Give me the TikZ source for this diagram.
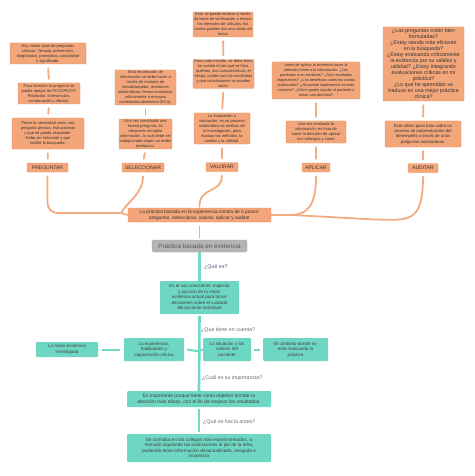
\documentclass[tikz,border=0pt]{standalone}
\usepackage{fontspec}
\setmainfont{Liberation Sans}
\definecolor{stepfill}{HTML}{F3A67A}
\definecolor{stepdraw}{HTML}{E8925E}
\definecolor{steporange}{HTML}{F2AC80}
\definecolor{ideafill}{HTML}{6ED7C3}
\definecolor{ideateal}{HTML}{6FD8C6}
\definecolor{rootfill}{HTML}{B4B4B4}
\definecolor{rootdraw}{HTML}{A6A6A6}
\definecolor{asktext}{HTML}{5B4E8C}
\definecolor{cuetext}{HTML}{6E6E6E}

\begin{document}
\begin{tikzpicture}[
  x=1pt,y=-1pt,
  stepbox/.style 2 args={draw=stepdraw,fill=stepfill,rounded corners=1pt,align=center,inner sep=0.5pt,
    text=black!80,minimum width=#1,minimum height=#2,font=\fontsize{4}{5}\selectfont},
  stagebox/.style={stepbox={#1}{9pt},font=\fontsize{5}{6}\selectfont},
  ideabox/.style 2 args={fill=ideafill,rounded corners=1pt,align=center,inner sep=0.5pt,
    text=black!75,minimum width=#1,minimum height=#2,font=\fontsize{4.5}{5.5}\selectfont},
  steplink/.style={draw=steporange,line width=1.8pt,line cap=round},
  idealink/.style={draw=ideateal,line width=2.6pt},
  cue/.style={anchor=west,text=cuetext,inner sep=0pt,font=\fontsize{5.3}{6}\selectfont}
]
  \useasboundingbox[fill=white] (0,0) rectangle (474,476);

  % preguntar
  \node[stepbox={76pt}{21pt}] (ask1) at (48,53.5) {Hay varios tipos de preguntas\\clínicas: Terapia, prevención,\\diagnóstico, pronóstico, causalidad\\y significado.};
  \node[stepbox={62pt}{21pt}] (ask2) at (49,93.5) {Para formular la pregunta se\\puede apoyar de PICO/PICOT:\\Población, intervención,\\comparación y efectos.};
  \node[stepbox={72pt}{31pt}] (ask3) at (48,133.5) {Poner la necesidad como una\\pregunta precisa, estructurada\\y que se pueda responder.\\Debe ser relevante y que\\facilite la búsqueda.};
  \node[stagebox={41pt}] (preguntar) at (47.5,167.5) {PREGUNTAR};

  % seleccionar
  \node[stepbox={61pt}{35pt}] (sel1) at (145.5,87.5) {Esta recolección de\\información se debe hacer a\\través de motores de\\metabúsqueda, revisiones\\sistemáticas, temas evaluados\\críticamente o ensayos\\controlados aleatorios (ECA).};
  \node[stepbox={53pt}{28pt}] (sel2) at (145.5,134) {Una vez construida una\\buena pregunta, es\\necesario recopilar\\información, la cual debe ser\\categorizada según un orden\\jerárquico.};
  \node[stagebox={42pt}] (seleccionar) at (143,167.5) {SELECCIONAR};

  % valorar
  \node[stepbox={60pt}{25pt}] (val1) at (223,24.5) {Esto se puede realizar a través\\de listas de verificación o revisar\\los ejemplos de cálculos, los\\cuales pueden dar una visión de\\estos};
  \node[stepbox={61pt}{28pt}] (val2) at (223.5,74) {Para cada estudio, se debe tener\\en cuenta el por qué se hizo,\\quiénes, sus características, el\\sesgo, cuáles son los resultados\\y qué conclusiones se pueden\\sacar.};
  \node[stepbox={56pt}{31pt}] (val3) at (222,128.5) {La evaluación o\\valoración, es un proceso\\sistemático de análisis de\\la investigación, para\\evaluar los métodos, la\\validez y la utilidad.};
  \node[stagebox={32pt}] (valorar) at (222,167) {VALORAR};

  % aplicar
  \node[stepbox={88pt}{37pt},font=\fontsize{3.8}{5}\selectfont] (app1) at (316,80.5) {Antes de aplicar la evidencia hacer la\\reflexión frente a la información: ¿Los\\pacientes eran similares? ¿Son resultados\\importantes? ¿Los beneficios valen los costos\\potenciales? ¿Se puede implementar en este\\contexto? ¿Cómo puedo ayudar al paciente a\\tomar una decisión?};
  \node[stepbox={60pt}{22pt}] (app2) at (316,132) {Una vez evaluada la\\información, es hora de\\tomar la decisión de aplicar\\los hallazgos y como};
  \node[stagebox={28pt}] (aplicar) at (316,167.5) {APLICAR};

  % auditar
  \node[stepbox={81pt}{74pt},font=\fontsize{5.3}{6}\selectfont] (aud1) at (423.5,64) {¿Las preguntas están bien\\formuladas?\\¿Estoy siendo más eficiente\\en la búsqueda?\\¿Estoy evaluando críticamente\\la evidencia por su validez y\\utilidad? ¿Estoy integrando\\evaluaciones críticas en mi\\práctica?\\¿Lo que he aprendido se\\traduce en una mejor práctica\\clínica?};
  \node[stepbox={76pt}{26pt},font=\fontsize{4.2}{5.3}\selectfont] (aud2) at (423,134) {Este último paso trata sobre un\\proceso de autoevaluación del\\desempeño a través de unas\\preguntas orientadoras.};
  \node[stagebox={30pt}] (auditar) at (423,168) {AUDITAR};

  \foreach \a/\b in {ask1/ask2,ask2/ask3,ask3/preguntar,sel1/sel2,sel2/seleccionar,
    val1/val2,val2/val3,val3/valorar,app1/app2,app2/aplicar,aud1/aud2,aud2/auditar}
    \draw[steplink,shorten <=4pt,shorten >=4pt] (\a.south) -- (\b.north);

  % pasos
  \node[stepbox={143pt}{14pt},font=\fontsize{4.8}{5.6}\selectfont] (steps) at (199.5,215) {La práctica basada en la experiencia consta de 5 pasos:\\preguntar, seleccionar, valorar, aplicar y auditar};
  \coordinate (joinL) at (121,213);
  \coordinate (joinR) at (292,215);
  \draw[steplink,rounded corners=10pt,shorten <=4pt] (preguntar.south) |- (joinL);
  \draw[steplink,shorten <=4pt] (seleccionar.south) .. controls (143,194) and (127,202) .. (joinL);
  \draw[steplink] (joinL) -- (steps.west);
  \draw[steplink,shorten <=4pt,shorten >=1pt] (valorar.south) .. controls (222,194) and (199,186) .. (steps.north);
  \draw[steplink,shorten <=4pt] (aplicar.south) .. controls (316,208) and (306,214) .. (joinR);
  \draw[steplink,shorten <=4pt] (auditar.south) .. controls (423,224) and (408,220) .. (375,219.5) -- (joinR);
  \draw[steplink] (joinR) -- (steps.east);

  \node[fill=rootfill,draw=rootdraw,rounded corners=1.5pt,minimum width=95pt,minimum height=12pt,inner sep=0.5pt,
    text=black!65,font=\fontsize{6.3}{7}\selectfont] (root) at (199.5,246) {Práctica basada en evidencia};
  \draw[steplink,shorten <=4pt,shorten >=2pt] (steps.south) -- (root.north);

  % evidencia
  \node[ideabox={79pt}{33pt}] (define) at (199.5,297.5) {Es el uso consciente, explícito\\y juicioso de la mejor\\evidencia actual para tomar\\decisiones sobre el cuidado\\del paciente individual};
  \node[ideabox={62pt}{15pt}] (best) at (67,349.5) {La mejor evidencia\\investigada};
  \node[ideabox={60pt}{23pt}] (skill) at (154,349.5) {La experiencia,\\habilidades y\\capacitación clínica};
  \node[ideabox={48pt}{23pt}] (values) at (227,349.5) {La situación y los\\valores del\\paciente};
  \node[ideabox={65pt}{23pt}] (setting) at (295.5,349.5) {El contexto donde se\\está realizando la\\práctica};
  \node[ideabox={144pt}{16pt},font=\fontsize{4.9}{5.6}\selectfont] (worth) at (199,399) {Es importante porque tiene como objetivo brindar la\\atención más eficaz, con el fin de mejorar los resultados.};
  \node[ideabox={144pt}{28pt},font=\fontsize{4.7}{5.5}\selectfont] (before) at (199,448) {Se confiaba en los colegas más experimentados, a\\menudo siguiendo las indicaciones al pie de la letra,\\pudiendo tener información desactualizada, sesgada e\\incorrecta};

  \coordinate (hub) at (199,351);
  \draw[idealink] (root.south) -- (define.north);
  \draw[idealink,shorten <=2pt] (define.south) -- (worth.north);
  \draw[idealink,shorten <=2pt,shorten >=2pt] (worth.south) -- (before.north);
  \draw[idealink,line width=2pt,shorten <=3pt] (skill.east) .. controls (191,349.5) and (192,351) .. (hub);
  \draw[idealink,line width=2pt] (hub) -- (values.west);
  \draw[idealink,line width=2pt,shorten <=4pt,shorten >=4pt] (best.east) -- (skill.west);
  \draw[idealink,line width=2pt,shorten <=3pt,shorten >=3pt] (values.east) -- (setting.west);

  \node[cue,text=asktext] (q1) at (204,267) {¿Qué es?};
  \node[cue] (q2) at (201,330) {¿Qué tiene en cuenta?};
  \node[cue] (q3) at (202,378) {¿Cuál es su importancia?};
  \node[cue] (q4) at (203,422) {¿Qué se hacía antes?};
\end{tikzpicture}
\end{document}
